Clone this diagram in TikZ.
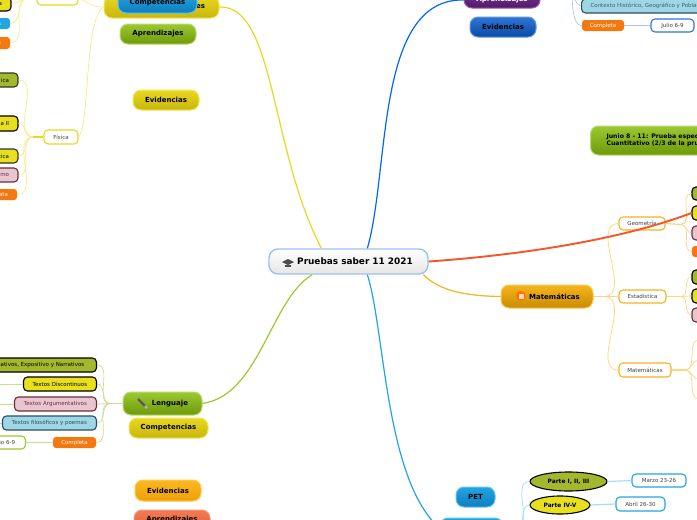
\documentclass[tikz,border=0pt]{standalone}
\usepackage{fontspec}
\setmainfont{DejaVu Sans}
\usetikzlibrary{shapes.geometric}
\definecolor{ckidy}{HTML}{E8E01C}
\definecolor{ckidg}{HTML}{A3B82C}
\definecolor{ckidp}{HTML}{E8C6CF}
\definecolor{cdkp}{HTML}{6E2B3E}
\definecolor{ckidb}{HTML}{9FD6E4}
\definecolor{cdkb}{HTML}{2A4F66}
\definecolor{ckido}{HTML}{F5780F}
\definecolor{cliney}{HTML}{F6EC8A}
\definecolor{clineo}{HTML}{FFD47E}
\definecolor{clineg}{HTML}{C8DF90}
\definecolor{clineb}{HTML}{A8DCF8}
\definecolor{clinet}{HTML}{A9C8F0}
\definecolor{cyel}{HTML}{E8D820}
\definecolor{cyelb}{HTML}{C9B50C}
\definecolor{cyell}{HTML}{F3E85C}
\definecolor{cgre}{HTML}{9CC832}
\definecolor{cgreb}{HTML}{6E9A0A}
\definecolor{cgrel}{HTML}{B8DA6C}
\definecolor{cora}{HTML}{F5B51E}
\definecolor{corab}{HTML}{C98B02}
\definecolor{coral}{HTML}{FFC94D}
\definecolor{cevi}{HTML}{FAB91E}
\definecolor{cevib}{HTML}{EFA007}
\definecolor{cblu}{HTML}{22A5E0}
\definecolor{cblub}{HTML}{0E7DBE}
\definecolor{cblul}{HTML}{5CC6F2}
\definecolor{cnav}{HTML}{2E76D5}
\definecolor{cnavb}{HTML}{0A4AA5}
\definecolor{cnavl}{HTML}{5C98E6}
\definecolor{cvio}{HTML}{7C3090}
\definecolor{cviob}{HTML}{4E1A66}
\definecolor{cviol}{HTML}{9A5CAE}
\definecolor{cred}{HTML}{F27C55}
\definecolor{credb}{HTML}{E95A30}
\definecolor{credl}{HTML}{F59A7C}
\definecolor{cthick}{HTML}{F4562A}
\newcommand{\rtxt}[1]{\makebox[48pt][r]{#1\hspace{9pt}}}
\tikzset{
	sz/.style 2 args={minimum width=#1pt,minimum height=#2pt},
	big/.style n args={3}{rounded corners=8pt,top color=#1,bottom color=#2,draw=#3,line width=1pt,inner sep=0pt,font=\fontsize{7}{9}\selectfont\bfseries},
	mainy/.style={big={cyel}{cyelb}{cyell}},
	maing/.style={big={cgre}{cgreb}{cgrel}},
	maino/.style={big={cora}{corab}{coral}},
	mainb/.style={big={cblu}{cblub}{cblul}},
	mainn/.style={big={cnav}{cnavb}{cnavl}},
	mainv/.style={big={cvio}{cviob}{cviol},text=white},
	mainr/.style={big={cred}{credb}{credl}},
	sub/.style={draw=#1,fill=white,rounded corners=4pt,line width=1.1pt,inner sep=0pt,text=black!75,font=\fontsize{5.5}{6}\selectfont},
	kid/.style 2 args={draw=#1,fill=#2,rounded corners=4pt,line width=1.1pt,inner sep=0pt,font=\fontsize{5.5}{6}\selectfont},
	kido/.style={fill=ckido,rounded corners=3pt,inner sep=0pt,text=white,font=\fontsize{5.5}{6}\selectfont},
	oval/.style={ellipse,draw=black,fill=#1,line width=1.1pt,inner sep=0pt,font=\fontsize{5.9}{7}\selectfont\bfseries},
	link/.style={draw=#1,line width=.7pt},
	bar/.style={draw=#1,line width=1.2pt},
	branch/.style={draw=#1,line width=1.2pt}
}
\begin{document}
\begin{tikzpicture}[x=1pt,y=-1pt]
	\path[use as bounding box,clip] (0,0) rectangle (697,520);
	\fill[white] (0,0) rectangle (697,520);
	\node[mainy,sz={115}{22}] (cie) at (161.5,7) {\makebox[115pt][r]{es\hspace{14pt}}};
	\node[mainb,sz={79}{20}] (com1) at (157.5,3) {Competencias};
	\node[maing,sz={76}{20}] (apr1) at (158,34) {Aprendizajes};
	\node[mainy,sz={66}{20}] (evi1) at (166,100) {Evidencias};
	\node[sub=cyel,sz={41}{14}] (qui) at (57.5,-2) {Química};
	\node[sub=cyel,sz={34}{14}] (fis) at (61,137) {Física};
	\coordinate (qh) at (28,-2);
	\coordinate (fh) at (33,137);
	\node[kid={black}{ckidy},sz={48}{14}] (q1) at (-13,4) {\rtxt{a}};
	\node[kido,fill=cblu,sz={48}{11}] (q2) at (-14,23.5) {\rtxt{s}};
	\node[kido,sz={48}{12}] (q3) at (-14,43) {\rtxt{s}};
	\node[kid={black!80}{ckidg},sz={48}{14}] (f1) at (-6,80) {\rtxt{ica}};
	\node[kid={black}{ckidy},sz={48}{15}] (f2) at (-6,123.5) {\rtxt{a II}};
	\node[kid={black!80}{ckidy},sz={48}{14}] (f3) at (-6,156) {\rtxt{tica}};
	\node[kid={cdkp}{ckidp},text=cdkp,sz={48}{14}] (f4) at (-6,175) {\rtxt{mo}};
	\node[kido,sz={48}{11}] (f5) at (-7,194.5) {\rtxt{ata}};
	\draw[link=cliney] (qh) to[out=180,in=0] (q1.east);
	\draw[link=cliney] (qh) to[out=180,in=0] (q2.east);
	\draw[link=cliney] (qh) to[out=180,in=0] (q3.east);
	\draw[link=cliney] (fh) to[out=180,in=0] (f1.east);
	\draw[link=cliney] (fh) to[out=180,in=0] (f2.east);
	\draw[link=cliney] (fh) to[out=180,in=0] (f3.east);
	\draw[link=cliney] (fh) to[out=180,in=0] (f4.east);
	\draw[link=cliney] (fh) to[out=180,in=0] (f5.east);
	\draw[bar=cliney] (qh)--(qui.west);
	\draw[bar=cyel] (fh)--(fis.west);
	\draw[link=cliney] (fis.east) .. controls (90,125) and (84,20) .. (cie.west);
	\draw[link=cliney] (qui.east) .. controls (85,0) and (90,7) .. (cie.west);
	\node[mainv,sz={76}{16}] (apr2) at (502,0) {Aprendizajes};
	\node[mainn,sz={66}{20}] (evi2) at (503,27) {Evidencias};
	\node[kid={cdkb}{ckidb},text=cdkb!90,sz={200}{14},anchor=west] (ctx) at (581,6) {\makebox[200pt][l]{\hspace{9pt}Contexto Histórico, Geográfico y Poblacional}};
	\node[kido,sz={42}{11}] (com4) at (603,25.5) {Completa};
	\node[sub=cnav,sz={43}{13}] (jul2) at (672.5,25.5) {Julio 6-9};
	\coordinate (th) at (570,-8);
	\coordinate (t1) at (584,-4);
	\draw[link=clinet] (th) to[out=60,in=180] (ctx.west);
	\draw[link=clinet] (th) to[out=70,in=180] (com4.west);
	\draw[link=clinet] (th) to[out=40,in=180] (t1);
	\draw[bar=clinet] (com4.east)--(jul2.west);
	\node[maing,sz={130}{29},anchor=west,align=left,font=\fontsize{6.2}{8}\selectfont\bfseries] (jun) at (590,140.5) {\makebox[130pt][l]{\hspace{16pt}Junio 8 - 11: Prueba espec}\\[-1pt]\makebox[130pt][l]{\hspace{16pt}Cuantitativo (2/3 de la pru}};
	\node[maino,sz={92}{23}] (mat) at (547,296.5) {\hspace*{15pt}Matemáticas};
	\node[sub=cora,sz={46}{13}] (geo) at (642,223.5) {Geometría};
	\node[sub=cora,sz={47}{13}] (est) at (642.5,296.5) {Estadística};
	\node[sub=cora,sz={52}{14}] (mt2) at (645,370) {Matemáticas};
	\coordinate (mh) at (604,296.5);
	\coordinate (gh) at (681,224.5);
	\coordinate (eh) at (681,296.5);
	\coordinate (th2) at (685,370);
	\coordinate (m1) at (699,340);
	\coordinate (m2) at (699,360);
	\coordinate (m3) at (699,379);
	\coordinate (m4) at (699,399);
	\node[kid={black}{ckidg},sz={30}{13}] (g1) at (707,193.5) {};
	\node[kid={black}{ckidy},sz={30}{14}] (g2) at (707,213) {};
	\node[kid={cdkp}{ckidp},sz={30}{14}] (g3) at (707,233) {};
	\node[kido,sz={30}{11}] (g4) at (707,251.5) {};
	\node[kid={black}{ckidg},sz={30}{14}] (e1) at (707,277) {};
	\node[kid={black}{ckidy},sz={30}{14}] (e2) at (707,296) {};
	\node[kid={cdkp}{ckidp},sz={30}{14}] (e3) at (707,315) {};
	\draw[link=clineo] (mat.east)--(est.west);
	\draw[link=clineo] (mh) to[out=0,in=180] (geo.west);
	\draw[link=clineo] (mh) to[out=0,in=180] (mt2.west);
	\draw[bar=clineo] (geo.east)--(gh);
	\draw[bar=clineo] (est.east)--(eh);
	\draw[bar=clineo] (mt2.east)--(th2);
	\draw[link=clineo] (gh) to[out=0,in=180] (g1.west);
	\draw[link=clineo] (gh) to[out=0,in=180] (g2.west);
	\draw[link=clineo] (gh) to[out=0,in=180] (g3.west);
	\draw[link=clineo] (gh) to[out=0,in=180] (g4.west);
	\draw[link=clineo] (eh) to[out=0,in=180] (e1.west);
	\draw[link=clineo] (eh) to[out=0,in=180] (e2.west);
	\draw[link=clineo] (eh) to[out=0,in=180] (e3.west);
	\draw[link=clineo] (th2) to[out=0,in=180] (m1);
	\draw[link=clineo] (th2) to[out=0,in=180] (m2);
	\draw[link=clineo] (th2) to[out=0,in=180] (m3);
	\draw[link=clineo] (th2) to[out=0,in=180] (m4);
	\node[maing,sz={79}{23}] (len) at (162.5,403.5) {\hspace*{15pt}Lenguaje};
	\node[mainy,sz={79}{20}] (com2) at (168.5,428) {Competencias};
	\node[big={cevi}{cevib}{coral},sz={66}{21}] (evi3) at (168,490.5) {Evidencias};
	\node[mainr,sz={76}{20}] (apr3) at (172,520) {Aprendizajes};
	\coordinate (lh) at (110,403.5);
	\coordinate (l2) at (-3,384);
	\coordinate (l3) at (-3,404);
	\coordinate (l4) at (-3,423);
	\node[kid={black}{ckidg},sz={145}{14},anchor=east] (t1l) at (97,365) {Textos Informativos, Expositivo y Narrativos};
	\node[kid={black}{ckidy},sz={73}{14},anchor=east] (t2l) at (97,384) {Textos Discontinuos};
	\node[kid={cdkp}{ckidp},text=cdkp,sz={82}{14},anchor=east] (t3l) at (97,404) {Textos Argumentativos};
	\node[kid={cdkb}{ckidb},text=cdkb,sz={94}{14},anchor=east] (t4l) at (97,423) {Textos filosóficos y poemas};
	\node[kido,sz={43}{11}] (com3) at (74.5,442.5) {Completa};
	\node[sub=cgre,sz={43}{13},anchor=east] (jul1) at (26,442.5) {Julio 6-9};
	\draw[link=clineg] (t2l.west)--(l2);
	\draw[link=clineg] (t3l.west)--(l3);
	\draw[link=clinet] (t4l.west)--(l4);
	\draw[bar=clineg] (com3.west)--(jul1.east);
	\draw[bar=clineg] (lh)--(len.west);
	\draw[link=clineg] (lh) to[out=180,in=0] (t1l.east);
	\draw[link=clineg] (lh) to[out=180,in=0] (t2l.east);
	\draw[link=clineg] (lh) to[out=180,in=0] (t3l.east);
	\draw[link=clineg] (lh) to[out=180,in=0] (t4l.east);
	\draw[link=clineg] (lh) to[out=180,in=0] (com3.east);
	\node[mainb,sz={39}{20}] (pet) at (475.5,497) {PET};
	\node[mainb,sz={63}{20}] (ing) at (471.5,528) {};
	\node[oval=ckidg,sz={77}{19}] (par1) at (568.5,481.5) {Parte I, II, III};
	\node[oval=ckidy,sz={60}{18}] (par2) at (560,505) {Parte IV-V};
	\node[sub=cblu,sz={54}{13}] (mar) at (659,480.5) {Marzo 23-26};
	\node[sub=cblu,sz={49}{14}] (abr) at (640.5,504) {Abril 26-30};
	\coordinate (ph) at (516,528);
	\draw[link=clineb] (ph) to[out=0,in=180] (par1.west);
	\draw[link=clineb] (ph) to[out=0,in=180] (par2.west);
	\draw[bar=clineb] (par1.east)--(mar.west);
	\draw[bar=clineb] (par2.east)--(abr.west);
	\node[sub=cnavl!60,top color=white,bottom color=black!10,line width=1.4pt,rounded corners=9pt,sz={159}{25},text=black,font=\fontsize{8.9}{10}\selectfont\bfseries] (pru) at (348.5,261.5) {\hspace*{13pt}Pruebas saber 11 2021};
	\draw[branch=cyel] (pru.154) .. controls (270,150) and (275,5) .. (cie.east);
	\draw[branch=cgre] (pru.200) .. controls (270,300) and (260,395) .. (len.east);
	\draw[branch=blue!60!cyan] (pru.35) .. controls (390,170) and (375,-2) .. (apr2.west);
	\draw[branch=cblu] (pru.-35) .. controls (385,330) and (385,480) .. (ing.west);
	\draw[branch=cora] (pru.-10) .. controls (440,292) and (470,296) .. (mat.west);
	\draw[draw=cthick,line width=1.9pt] (pru.east) .. controls (520,255) and (620,240) .. (g2.west);
	\fill[black!70] (282,262)--(288,259)--(294,262)--(288,265)--cycle;
	\fill[black!70] (285,264.5)--(291,264.5)--(291,267)--(285,267)--cycle;
	\draw[black!65,line width=2.4pt] (138,399)--(145,406);
	\draw[black!30,line width=2.4pt] (145,406)--(147,408);
	\fill[orange!90!red] (521,296) circle (5);
	\fill[orange!30] (518.5,293.5) rectangle (523.5,298.5);
\end{tikzpicture}
\end{document}
